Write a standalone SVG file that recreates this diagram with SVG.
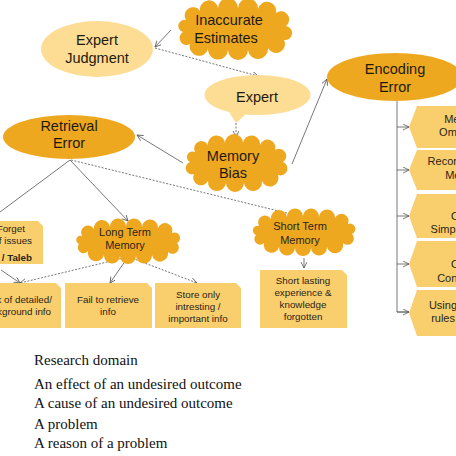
<svg xmlns="http://www.w3.org/2000/svg" width="456" height="456" viewBox="0 0 456 456">
<defs>
<marker id="ah" markerWidth="8" markerHeight="8" refX="6" refY="3" orient="auto" markerUnits="userSpaceOnUse">
<path d="M0,0 L6,3 L0,6" fill="none" stroke="#555" stroke-width="0.8"/>
</marker>
<style>
.dark{fill:#EEA820}
.pale{fill:#FDDC94}
.box{fill:#F9CF6E}
.ln{fill:none;stroke:#555;stroke-width:0.8}
.dot{stroke-dasharray:2,1.5}
.t14{font-family:"Liberation Sans",Arial,sans-serif;font-size:14.5px;fill:#1e1a10;text-anchor:middle}
.t11{font-family:"Liberation Sans",Arial,sans-serif;font-size:11px;fill:#2a2418;text-anchor:middle}
.t10{font-family:"Liberation Sans",Arial,sans-serif;font-size:9.8px;fill:#2a2418;text-anchor:middle}
.end{text-anchor:end}
.ser{font-family:"Liberation Serif","Times New Roman",serif;font-size:15px;fill:#111}
</style>
</defs>
<rect width="456" height="456" fill="#fff"/>

<g id="connectors">
<line class="ln" x1="171" y1="30" x2="155" y2="47" marker-end="url(#ah)"/>
<line class="ln dot" x1="155" y1="48" x2="258" y2="76" marker-end="url(#ah)"/>
<line class="ln dot" x1="236" y1="123" x2="236" y2="137" marker-end="url(#ah)"/>
<line class="ln" x1="183" y1="163" x2="137" y2="135" marker-end="url(#ah)"/>
<line class="ln" x1="292" y1="164" x2="327" y2="79" marker-end="url(#ah)"/>
<line class="ln" x1="70" y1="160" x2="0" y2="212"/>
<line class="ln" x1="70" y1="160" x2="128" y2="221" marker-end="url(#ah)"/>
<line class="ln dot" x1="71" y1="160" x2="303" y2="217" marker-end="url(#ah)"/>
<line class="ln dot" x1="128" y1="257" x2="20" y2="283" marker-end="url(#ah)"/>
<line class="ln" x1="128" y1="257" x2="110" y2="283" marker-end="url(#ah)"/>
<line class="ln dot" x1="129" y1="257" x2="197" y2="283" marker-end="url(#ah)"/>
<line class="ln" x1="1" y1="270" x2="20" y2="283" marker-end="url(#ah)"/>
<line class="ln" x1="304" y1="258" x2="304" y2="268" marker-end="url(#ah)"/>
<path class="ln" d="M397,101 V312 H409"/>
<line class="ln" x1="397" y1="127" x2="409" y2="127" marker-end="url(#ah)"/>
<line class="ln" x1="397" y1="170" x2="409" y2="170" marker-end="url(#ah)"/>
<line class="ln" x1="397" y1="216" x2="409" y2="216" marker-end="url(#ah)"/>
<line class="ln" x1="397" y1="264" x2="409" y2="264" marker-end="url(#ah)"/>
<line class="ln" x1="397" y1="312" x2="409" y2="312" marker-end="url(#ah)"/>
</g>

<g id="expert-judgment">
<ellipse class="pale" cx="97" cy="49" rx="56" ry="28"/>
<text class="t14" x="97" y="45">Expert</text>
<text class="t14" x="97" y="63">Judgment</text>
</g>

<g id="inaccurate-estimates">
<path class="dark" d="M186,20 A1 1 0 0 1 200,11 A1 1 0 0 1 218,8 A1 1 0 0 1 238,8 A1 1 0 0 1 258,9 A1 1 0 0 1 276,13 A1 1 0 0 1 286,26 A1 1 0 0 1 284,40 A1 1 0 0 1 268,48 A1 1 0 0 1 248,50 A1 1 0 0 1 228,50 A1 1 0 0 1 208,49 A1 1 0 0 1 190,44 A1 1 0 0 1 183,32 A1 1 0 0 1 186,20 Z"/>
<text class="t14" x="229" y="25">Inaccurate</text>
<text class="t14" x="226" y="43">Estimates</text>
</g>

<g id="expert">
<ellipse class="pale" cx="257.5" cy="95" rx="53" ry="20"/>
<path class="pale" d="M229,112 L236,123 L246,114 Z"/>
<text class="t14" x="257" y="102">Expert</text>
</g>

<g id="memory-bias">
<path class="dark" d="M195,152 A1 1 0 0 1 208,145 A1 1 0 0 1 225,143 A1 1 0 0 1 243,143 A1 1 0 0 1 260,145 A1 1 0 0 1 275,150 A1 1 0 0 1 283,162 A1 1 0 0 1 278,175 A1 1 0 0 1 262,181 A1 1 0 0 1 244,183 A1 1 0 0 1 226,183 A1 1 0 0 1 208,181 A1 1 0 0 1 194,174 A1 1 0 0 1 190,162 A1 1 0 0 1 195,152 Z"/>
<text class="t14" x="233" y="161">Memory</text>
<text class="t14" x="233" y="178">Bias</text>
</g>

<g id="encoding-error">
<ellipse class="dark" cx="395" cy="77" rx="68" ry="24"/>
<text class="t14" x="395" y="74">Encoding</text>
<text class="t14" x="395" y="92">Error</text>
</g>

<g id="retrieval-error">
<ellipse class="dark" cx="69" cy="137" rx="66" ry="22"/>
<text class="t14" x="69" y="131">Retrieval</text>
<text class="t14" x="69" y="148">Error</text>
</g>

<g id="forget-issues">
<path class="box" d="M-10,221 H38 L43,226 V264 H-10 Z"/>
<text class="t10 end" x="25" y="232">Forget</text>
<text class="t10 end" x="32" y="244">of issues</text>
<text class="t10 end" x="32" y="261" font-weight="bold">/ Taleb</text>
</g>

<g id="long-term-memory">
<path class="dark" d="M82,236 A1 1 0 0 1 94,229 A1 1 0 0 1 110,227 A1 1 0 0 1 126,226 A1 1 0 0 1 142,227 A1 1 0 0 1 158,228 A1 1 0 0 1 172,233 A1 1 0 0 1 177,243 A1 1 0 0 1 168,252 A1 1 0 0 1 152,255 A1 1 0 0 1 136,256 A1 1 0 0 1 120,256 A1 1 0 0 1 104,255 A1 1 0 0 1 88,251 A1 1 0 0 1 79,244 A1 1 0 0 1 82,236 Z"/>
<text class="t11" x="125" y="236">Long Term</text>
<text class="t11" x="125" y="249">Memory</text>
</g>

<g id="short-term-memory">
<path class="dark" d="M259,226 A1 1 0 0 1 271,219 A1 1 0 0 1 287,217 A1 1 0 0 1 303,216 A1 1 0 0 1 319,217 A1 1 0 0 1 335,218 A1 1 0 0 1 348,224 A1 1 0 0 1 352,234 A1 1 0 0 1 343,243 A1 1 0 0 1 327,247 A1 1 0 0 1 311,248 A1 1 0 0 1 295,248 A1 1 0 0 1 279,247 A1 1 0 0 1 264,243 A1 1 0 0 1 256,235 A1 1 0 0 1 259,226 Z"/>
<text class="t11" x="300" y="230">Short Term</text>
<text class="t11" x="300" y="244">Memory</text>
</g>

<g id="lack-of-detail">
<path class="box" d="M-10,283 H56 L61,288 V328 H-10 Z"/>
<text class="t10 end" x="52" y="303">Lack of detailed/</text>
<text class="t10 end" x="51" y="315">background info</text>
</g>

<g id="fail-to-retrieve">
<path class="box" d="M65,283 H147 L152,288 V328 H65 Z"/>
<text class="t10" x="108" y="303">Fail to retrieve</text>
<text class="t10" x="108" y="315">info</text>
</g>

<g id="store-only">
<path class="box" d="M155,283 H236 L241,288 V328 H155 Z"/>
<text class="t10" x="198" y="298">Store only</text>
<text class="t10" x="198" y="310">intresting /</text>
<text class="t10" x="198" y="322">important info</text>
</g>

<g id="short-lasting">
<path class="box" d="M260,270 H342 L347,275 V328 H260 Z"/>
<text class="t10" x="303" y="284">Short lasting</text>
<text class="t10" x="303" y="296">experience &amp;</text>
<text class="t10" x="303" y="308">knowledge</text>
<text class="t10" x="303" y="320">forgotten</text>
</g>

<g id="memory-omission">
<path class="box" d="M417,106 H470 V148 H417 L409,127 Z"/>
<text class="t11" x="464" y="123">Memory</text>
<text class="t11" x="462" y="136">Omission</text>
</g>

<g id="reconstructive-memory">
<path class="box" d="M417,150 H470 V190 H417 L409,170 Z"/>
<text class="t11" x="464" y="165">Reconstructive</text>
<text class="t11" x="465" y="179">Memory</text>
</g>

<g id="over-simplification">
<path class="box" d="M417,194 H470 V238 H417 L409,216 Z"/>
<text class="t11" x="463" y="220">Over</text>
<text class="t11" x="463" y="233">Simplification</text>
</g>

<g id="over-confidence">
<path class="box" d="M417,241 H470 V287 H417 L409,264 Z"/>
<text class="t11" x="463" y="268">Over</text>
<text class="t11" x="465" y="282">Confidence</text>
</g>

<g id="using-rules">
<path class="box" d="M417,290 H470 V336 H417 L409,313 Z"/>
<text class="t11" x="465" y="309">Using heuristic</text>
<text class="t11" x="466" y="322">rules of thumb</text>
</g>

<g id="legend">
<text class="ser" x="34" y="365">Research domain</text>
<text class="ser" x="34" y="389">An effect of an undesired outcome</text>
<text class="ser" x="34" y="408">A cause of an undesired outcome</text>
<text class="ser" x="34" y="429">A problem</text>
<text class="ser" x="34" y="448">A reason of a problem</text>
</g>
</svg>
